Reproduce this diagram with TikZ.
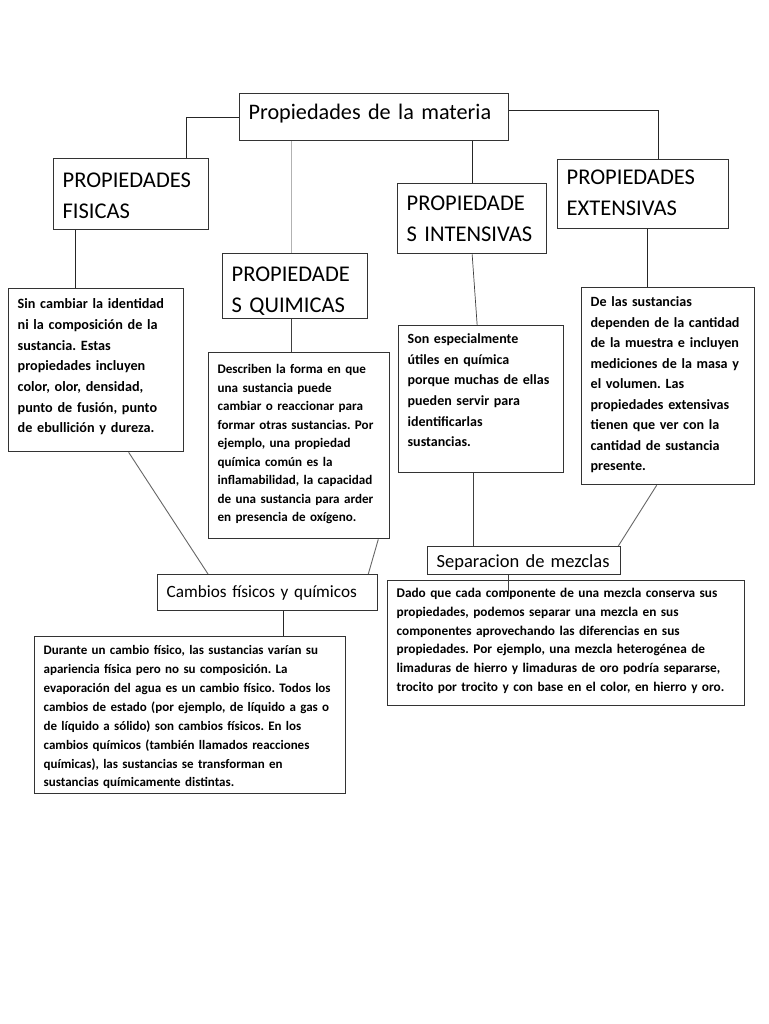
\documentclass[tikz,border=0pt]{standalone}
\usepackage{fontspec}
\setmainfont{Carlito}
\usepackage{xcolor}
\definecolor{boxgray}{HTML}{333333}
\frenchspacing

\begin{document}
\begin{tikzpicture}[x=1pt, y=-1pt, % pixel units, y down
        box/.style={draw=boxgray, line width=1.3pt, anchor=north west, inner xsep=9pt, inner ysep=0pt, align=left},
        titlefont/.style={font=\fontsize{22.5}{30.5}\selectfont},
        link/.style={draw=black!85, line width=1pt},
        thinlink/.style={draw=black!75, line width=0.7pt},
        faintlink/.style={draw=black!30, line width=0.9pt},
        diaglink/.style={draw=black!60, line width=0.9pt}]

        % Page
        \fill[white] (0,0) rectangle (768,1024);
        \useasboundingbox (0,0) rectangle (768,1024);

        % Main title
        \node[box, text width=251, text height=26, text depth=21, font=\fontsize{22.2}{27}\selectfont] (materia) at (239,93) {Propiedades de la materia};

        % Property boxes
        \node[box, titlefont, text width=137, text height=29, text depth=42] (fisicas) at (53,158) {PROPIEDADES\\FISICAS};
        \node[box, titlefont, text width=127, text height=28, text depth=37] (quimicas) at (222,253) {PROPIEDADE\\S QUIMICAS};
        \node[box, titlefont, text width=131, text height=27, text depth=43] (intensivas) at (397,183) {PROPIEDADE\\S INTENSIVAS};
        \node[box, titlefont, text width=153, text height=25, text depth=44] (extensivas) at (557,159) {PROPIEDADES\\EXTENSIVAS};

        % Descriptions
        \node[box, text width=157, text height=20, text depth=143, font=\bfseries\fontsize{14.2}{20.7}\selectfont] (sin) at (8,288)
            {Sin cambiar la identidad\\ni la composición de la\\sustancia. Estas\\propiedades incluyen\\color, olor, densidad,\\punto de fusión, punto\\de ebullición y dureza.};
        \node[box, text width=163, text height=21, text depth=165, font=\bfseries\fontsize{13.1}{18.5}\selectfont] (describen) at (208,352)
            {Describen la forma en que\\una sustancia puede\\cambiar o reaccionar para\\formar otras sustancias. Por\\ejemplo, una propiedad\\química común es la\\inflamabilidad, la capacidad\\de una sustancia para arder\\en presencia de oxígeno.};
        \node[box, text width=147, text height=18, text depth=129, font=\bfseries\fontsize{14}{20.6}\selectfont] (son) at (398,325)
            {Son especialmente\\útiles en química\\porque muchas de ellas\\pueden servir para\\identificarlas\\sustancias.};
        \node[box, text width=155, text height=19, text depth=178, font=\bfseries\fontsize{14.1}{20.5}\selectfont] (delas) at (581,287)
            {De las sustancias\\dependen de la cantidad\\de la muestra e incluyen\\mediciones de la masa y\\el volumen. Las\\propiedades extensivas\\tienen que ver con la\\cantidad de sustancia\\presente.};

        % Lower level
        \node[box, text width=202, text height=23, text depth=13, font=\fontsize{17.2}{21}\selectfont] (cambios) at (157,574) {Cambios físicos y químicos};
        \node[box, text width=175, text height=21, text depth=7, font=\fontsize{18.5}{22}\selectfont] (separacion) at (427,546) {Separacion de mezclas};
        \node[box, text width=293, text height=18, text depth=139, font=\bfseries\fontsize{13}{18.9}\selectfont] (durante) at (34,636)
            {Durante un cambio físico, las sustancias varían su\\apariencia física pero no su composición. La\\evaporación del agua es un cambio físico. Todos los\\cambios de estado (por ejemplo, de líquido a gas o\\de líquido a sólido) son cambios físicos. En los\\cambios químicos (también llamados reacciones\\químicas), las sustancias se transforman en\\sustancias químicamente distintas.};
        \node[box, text width=339, text height=17, text depth=108, font=\bfseries\fontsize{13.3}{18.7}\selectfont] (dado) at (387,580)
            {Dado que cada componente de una mezcla conserva sus\\propiedades, podemos separar una mezcla en sus\\componentes aprovechando las diferencias en sus\\propiedades. Por ejemplo, una mezcla heterogénea de\\limaduras de hierro y limaduras de oro podría separarse,\\trocito por trocito y con base en el color, en hierro y oro.};

        % Connector points
        \coordinate (qtop) at ([xshift=-3.5pt]quimicas.north);
        \coordinate (qbot) at ([xshift=-3.5pt]quimicas.south);
        \coordinate (fbot) at ([xshift=22pt]fisicas.south west);
        \coordinate (ebot) at ([xshift=4.5pt]extensivas.south);
        \coordinate (sbot) at ([xshift=-8pt]son.south);
        \coordinate (mbot) at ([xshift=-15.5pt]separacion.south);
        \coordinate (cbot) at ([xshift=16pt]cambios.south);

        % Upper connectors
        \draw[link] (materia.west) -| ([xshift=-23pt]fisicas.north east);
        \draw[link] ([yshift=6.5pt]materia.east) -| ([xshift=15.5pt]extensivas.north);
        \draw[faintlink] (qtop) -- (qtop |- materia.south);
        \draw[link] (intensivas.north) -- (intensivas.north |- materia.south);

        % Property to description
        \draw[link] (fbot) -- (fbot |- sin.north);
        \draw[thinlink] (qbot) -- (qbot |- describen.north);
        \draw[thinlink] (intensivas.south) -- ([xshift=-4pt]son.north);
        \draw[link] (ebot) -- (ebot |- delas.north);

        % Lower connectors
        \draw[diaglink] ([xshift=32.5pt]sin.south) -- ([xshift=51pt]cambios.north west);
        \draw[diaglink] ([xshift=-12pt]describen.south east) -- ([xshift=-10pt]cambios.north east);
        \draw[thinlink] (sbot) -- (sbot |- separacion.north);
        \draw[diaglink] ([xshift=-11.5pt]delas.south) -- ([xshift=-3pt]separacion.north east);
        \draw[link] (cbot) -- (cbot |- durante.north);
        \draw[thinlink] (mbot) -- ++(0,19);
    \end{tikzpicture}
\end{document}
